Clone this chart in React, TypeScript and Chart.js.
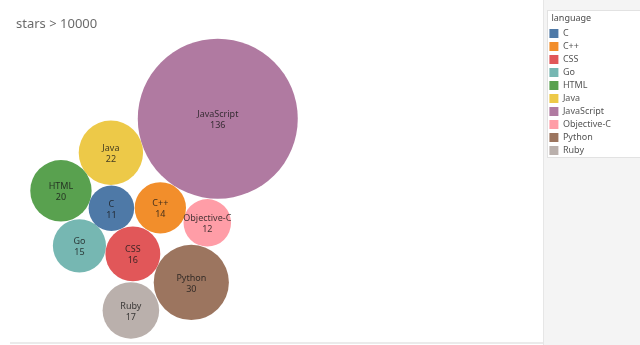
import React, { useEffect, useRef } from "react";
import { Chart, registerables } from "chart.js";

Chart.register(...registerables);

// Repositories with more than 10000 stars, grouped by language
const languages = ["C", "C++", "CSS", "Go", "HTML", "Java", "JavaScript", "Objective-C", "Python", "Ruby"];
const repoCounts = [11, 14, 16, 15, 20, 22, 136, 12, 30, 17];

// Packed-bubble layout: centre of each bubble on the hidden x / y scales
const packX = [95.5, 144.5, 117, 63.5, 45, 95, 202, 191.5, 175.5, 115];
const packY = [170.5, 170, 216, 208, 153, 115, 81, 185, 244.5, 272.5];

const palette = ["#4e79a7", "#f28e2b", "#e15759", "#76b7b2", "#59a14f", "#edc948", "#b07aa1", "#ff9da7", "#9c755f", "#bab0ac"];

const legendHeader = "language";

const FONT = "'Noto Sans', 'DejaVu Sans', sans-serif";

// bubble area proportional to the count
const bubbleRadius = (v: number) => 6.86 * Math.sqrt(v);

const panelPlugin = {
  id: "sidePanel",
  beforeDraw(chart: any) {
    const { ctx, width, height } = chart;
    ctx.save();
    ctx.fillStyle = "#ffffff";
    ctx.fillRect(0, 0, width, height);
    // side panel behind the legend
    ctx.fillStyle = "#f4f4f4";
    ctx.fillRect(544, 0, width - 544, height);
    ctx.strokeStyle = "#e6e6e6";
    ctx.lineWidth = 1;
    ctx.beginPath();
    ctx.moveTo(543.5, 0);
    ctx.lineTo(543.5, height);
    ctx.stroke();
    // legend card with its header
    ctx.fillStyle = "#ffffff";
    ctx.fillRect(547, 10, width - 547, 148);
    ctx.strokeStyle = "#e2e2e2";
    ctx.strokeRect(547.5, 10.5, width - 547, 147);
    ctx.font = `9px ${FONT}`;
    ctx.fillStyle = "#4a4a4a";
    ctx.textAlign = "left";
    ctx.textBaseline = "middle";
    ctx.fillText(legendHeader, 551.5, 18.5);
    // bottom edge of the view
    ctx.fillStyle = "#ebebeb";
    ctx.fillRect(10, 342, 533, 2);
    ctx.restore();
  },
};

const bubbleLabels = {
  id: "bubbleLabels",
  afterDatasetsDraw(chart: any) {
    const { ctx } = chart;
    ctx.save();
    ctx.font = `9px ${FONT}`;
    ctx.textAlign = "center";
    ctx.textBaseline = "middle";
    ctx.fillStyle = "rgba(25,25,25,0.82)";
    chart.data.datasets.forEach((ds: any, i: number) => {
      const meta = chart.getDatasetMeta(i);
      const el = meta.data[0];
      if (!el) return;
      ctx.fillText(languages[i], el.x, el.y - 4);
      ctx.fillText(String(repoCounts[i]), el.x, el.y + 7);
    });
    ctx.restore();
  },
};

export default function App() {
  const canvasRef = useRef<HTMLCanvasElement>(null);

  useEffect(() => {
    if (!canvasRef.current) return;
    const chart = new Chart(canvasRef.current, {
      type: "bubble",
      data: {
        datasets: languages.map((lang, i) => ({
          label: lang,
          data: [{ x: packX[i], y: packY[i], r: bubbleRadius(repoCounts[i]) }],
          backgroundColor: palette[i],
          borderColor: palette[i],
          borderWidth: 0,
          hoverRadius: 0,
          clip: false as any,
        })),
      },
      options: {
        responsive: false,
        animation: false,
        events: [],
        // top padding leaves room for the legend card header
        layout: { autoPadding: false, padding: { left: 16, right: 19, top: 25, bottom: 4 } },
        scales: {
          x: { type: "linear", display: false, min: 0, max: 530 },
          y: { type: "linear", display: false, min: 0, max: 303, reverse: true },
        },
        plugins: {
          tooltip: { enabled: false },
          title: {
            display: true,
            text: "stars > 10000",
            align: "start",
            color: "#6b6b6b",
            font: { family: FONT, size: 13, weight: "normal" },
            padding: { top: -9, bottom: 6 },
          },
          legend: {
            display: true,
            position: "right",
            align: "start",
            labels: {
              boxWidth: 9,
              boxHeight: 9,
              padding: 4,
              color: "#555",
              font: { family: FONT, size: 9 },
            },
          },
        },
      },
      plugins: [panelPlugin, bubbleLabels],
    });
    return () => chart.destroy();
  }, []);

  return (
    <div style={{ position: "fixed", left: 0, top: 0, width: 640, height: 345, background: "#fff" }}>
      <canvas ref={canvasRef} width={640} height={345} />
    </div>
  );
}
